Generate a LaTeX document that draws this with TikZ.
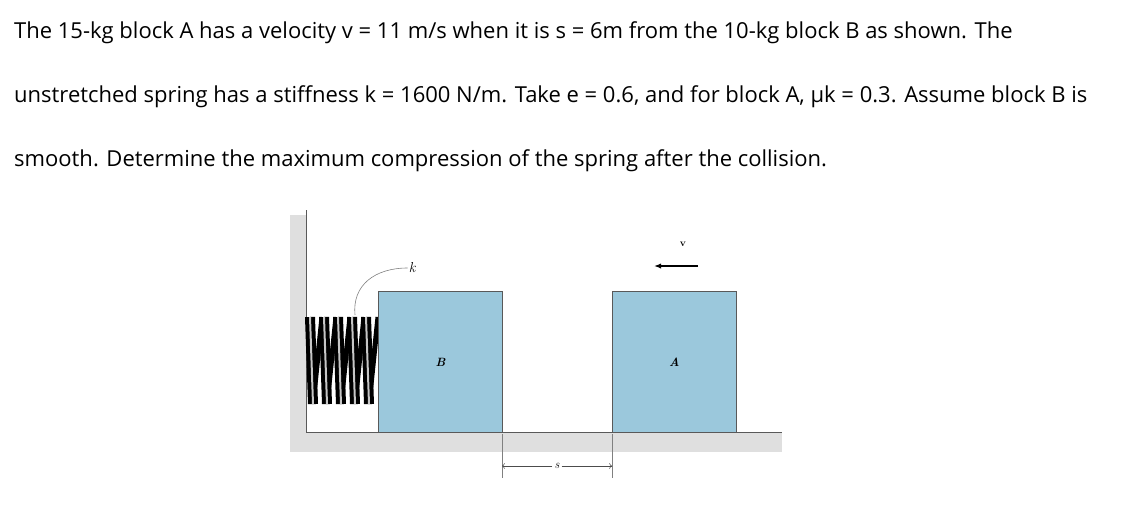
\documentclass[tikz,border=0pt]{standalone}
\usepackage{fontspec}
\setmainfont{Open Sans}
\newfontfamily\lmr{Latin Modern Roman}
\usetikzlibrary{arrows.meta}
\definecolor{blockblue}{RGB}{155,200,220}
\begin{document}
\begin{tikzpicture}[x=1pt,y=-1pt,
  txt/.style={anchor=west,inner sep=0pt,font=\fontsize{22}{26}\selectfont},
  blk/.style={draw=gray!70!black,fill=blockblue,line width=0.8pt},
  coil/.style={line width=4pt,draw=black,double=gray!45,double distance=2pt},
  lab/.style={font=\lmr\itshape\bfseries\large,inner sep=1pt}]
\useasboundingbox (0,0) rectangle (1144,523);
\node[txt] (l1) at (14,33) {The 15-kg block A has a velocity v = 11 m/s when it is s = 6m from the 10-kg block B as shown. The};
\node[txt] (l2) at (14,97) {unstretched spring has a stiffness k = 1600 N/m. Take e = 0.6, and for block A, μk = 0.3. Assume block B is};
\node[txt] (l3) at (14,161) {smooth. Determine the maximum compression of the spring after the collision.};
% shading
\fill[gray!25] (290,215) rectangle (306,445);
\fill[gray!25] (290,432) rectangle (782,452);
\draw[gray!70!black,line width=0.8pt] (306,210) -- (306,432) -- (782,432);
% spring
\foreach \i in {0,1,2,3,4}{
  \draw[line width=5pt,draw=black] ({313+\i*14},404) -- ({322+\i*14},317);
}
\foreach \i in {0,1,2,3,4}{
  \draw[coil] ({310+\i*14},317) -- ({313+\i*14},404);
}
\node[blk,minimum width=124pt,minimum height=141pt,anchor=north west,inner sep=0pt] (B) at (378,291) {};
\node[lab] at (B.center) {B};
\node[blk,minimum width=124pt,minimum height=141pt,anchor=north west,inner sep=0pt] (A) at (612,291) {};
\node[lab] at (A.center) {A};
% k label
\node[font=\lmr\itshape\Large,inner sep=1pt] (k) at (412,268) {k};
\coordinate (ks) at (355,315);
\draw[gray,line width=0.6pt] (ks) .. controls (352,285) and (375,268) .. (k.west);
% v
\node[font=\lmr\bfseries\normalsize,inner sep=1pt] (v) at (683,244) {v};
\coordinate (v1) at (698,266); \coordinate (v2) at (654,266);
\draw[line width=1.6pt,-{Latex[length=7pt]}] (v1) -- (v2);
% dimension
\coordinate (d1) at (502,434); \coordinate (d1b) at (502,478);
\coordinate (d2) at (612,434); \coordinate (d2b) at (612,478);
\draw[gray,line width=0.6pt] (d1) -- (d1b) (d2) -- (d2b);
\node[font=\lmr\itshape\large,inner sep=2pt] (s) at (557,466) {s};
\draw[gray!60!black,line width=0.5pt,->] (s.west) -- (502,466);
\draw[gray!60!black,line width=0.5pt,->] (s.east) -- (612,466);
\end{tikzpicture}
\end{document}
